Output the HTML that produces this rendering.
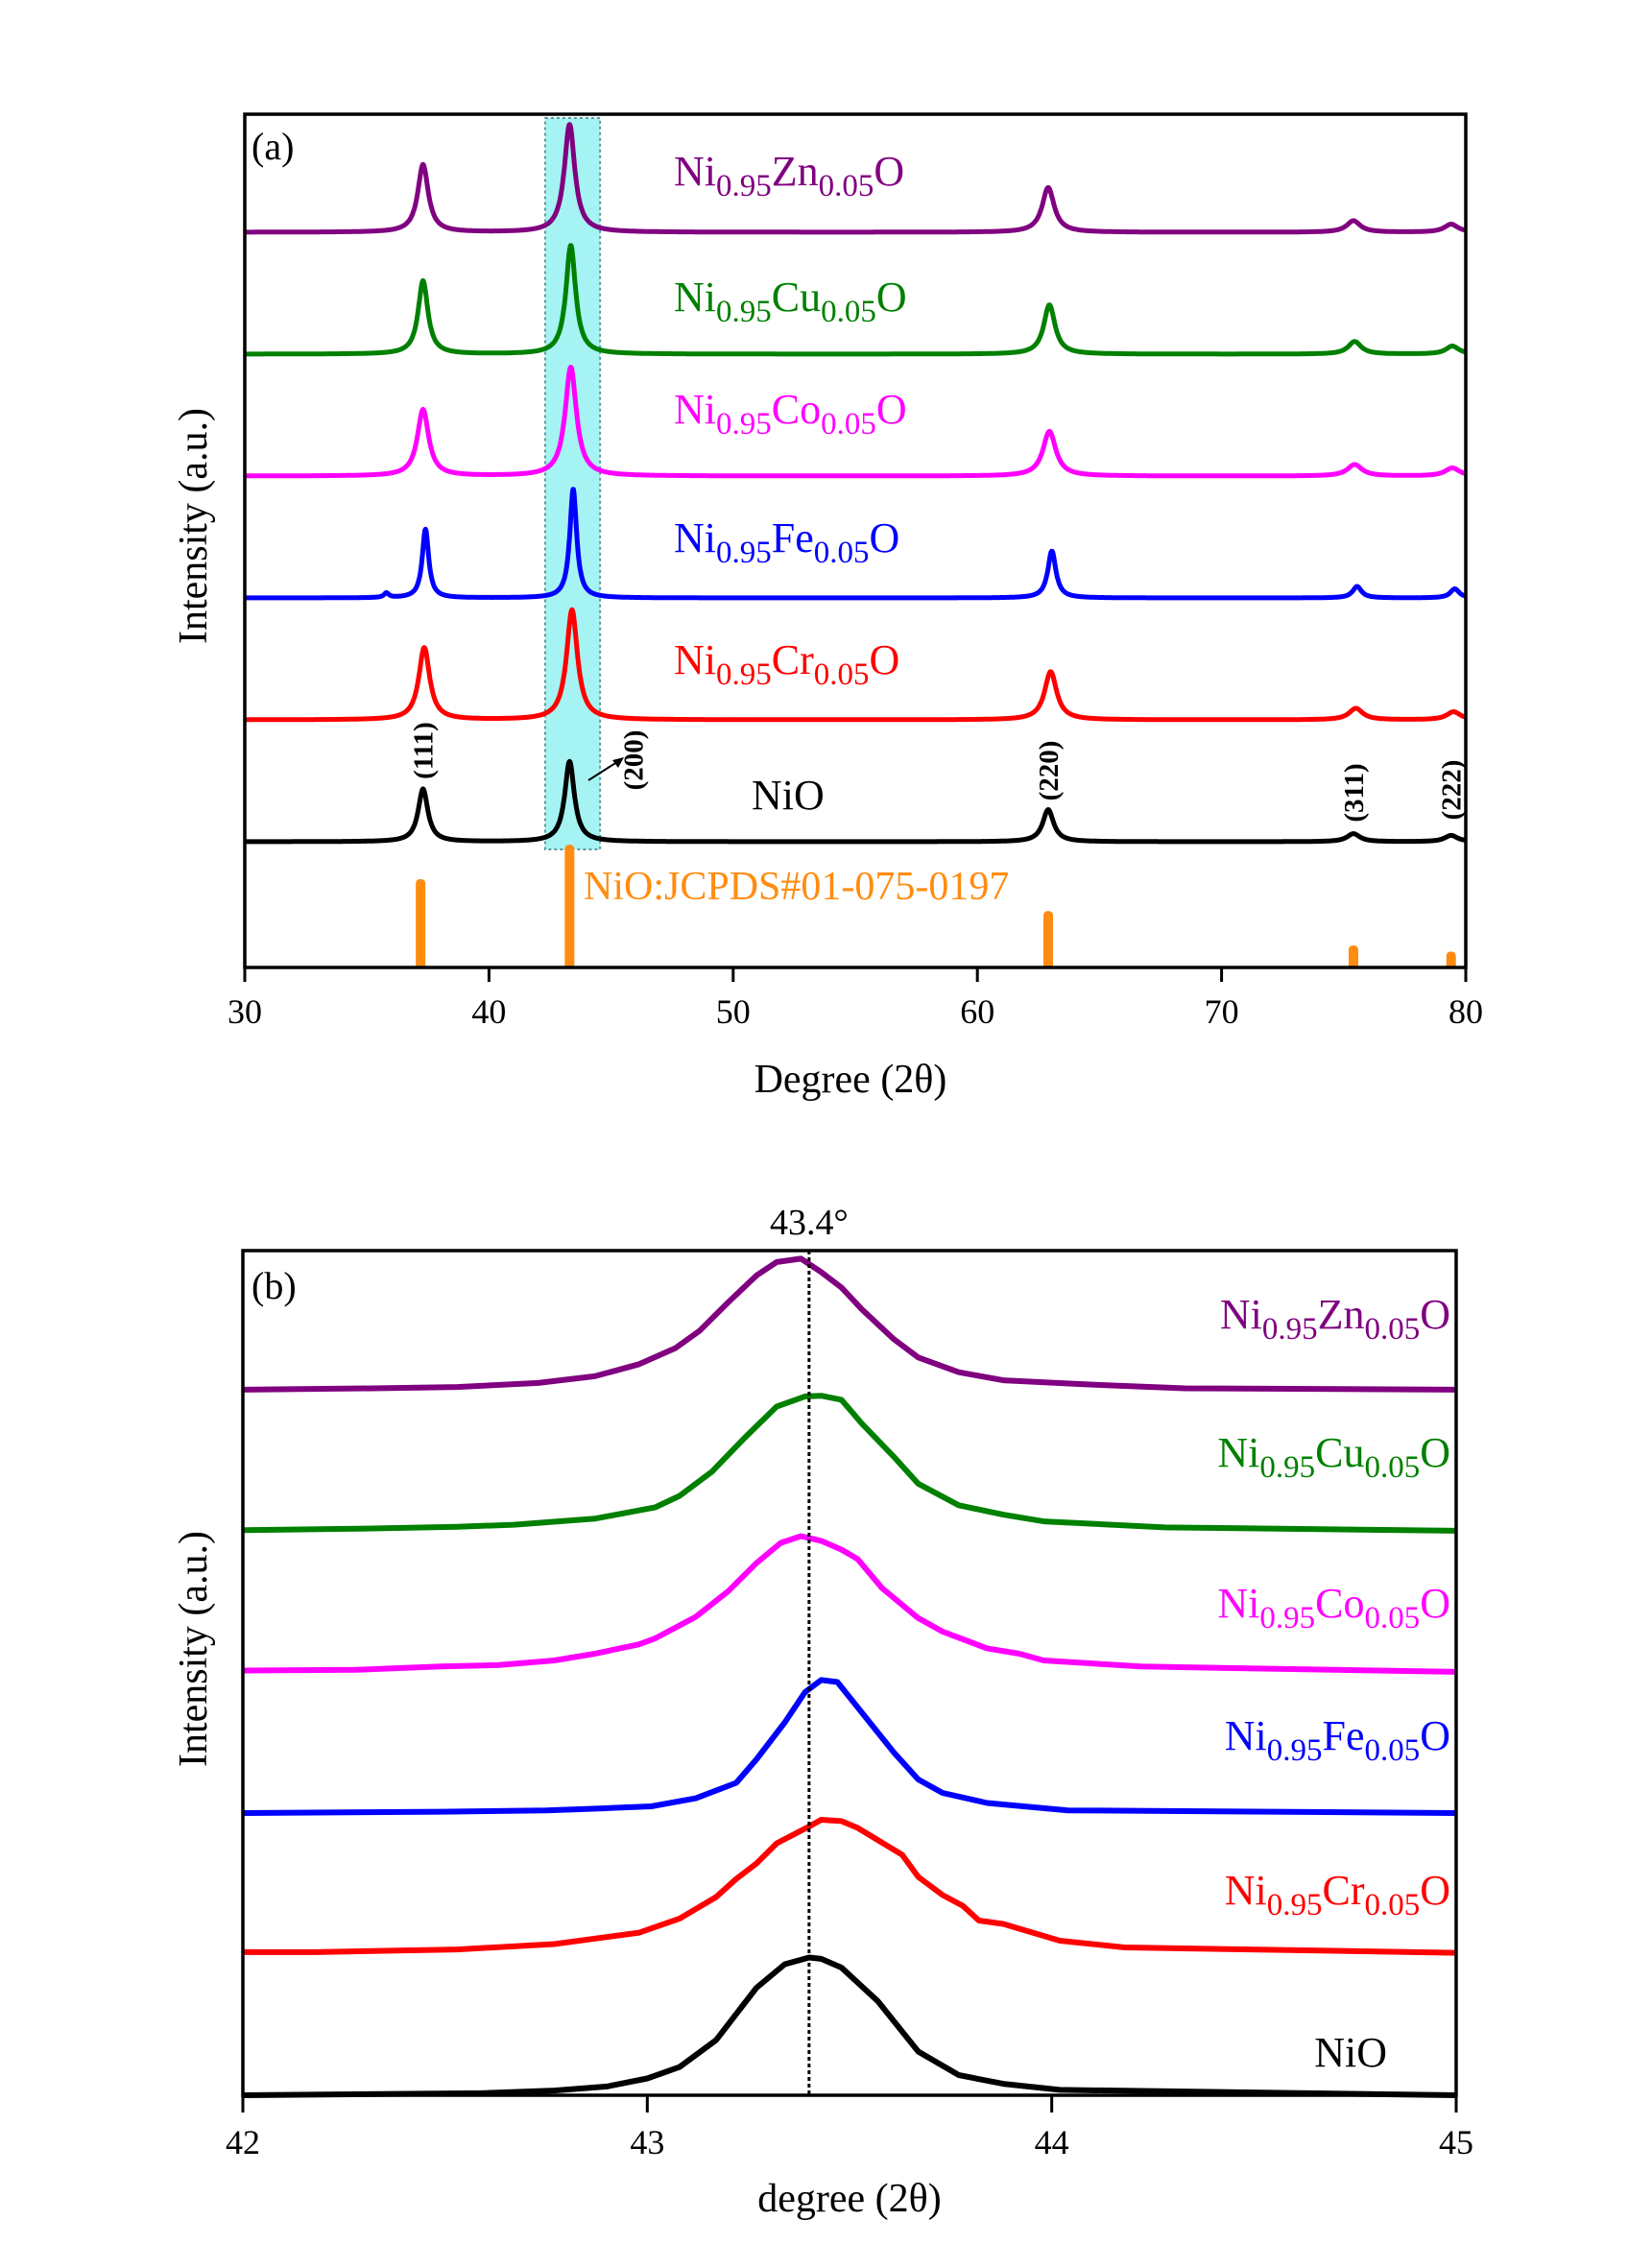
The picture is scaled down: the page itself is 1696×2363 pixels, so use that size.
<!DOCTYPE html>
<html><head><meta charset="utf-8"><style>
html,body{margin:0;padding:0;background:#fff;}
svg{display:block;font-family:"Liberation Serif",serif;}
</style></head><body>
<svg id="chart" width="1696" height="2363" viewBox="0 0 1696 2363" xmlns="http://www.w3.org/2000/svg">
<g id="pa"></g>
<g id="pb"></g>
</svg>
<script>
// ---------- Panel (a) data ----------
const aSeries = ["NiO","Cr","Fe","Co","Cu","Zn"];
const aColors = ["#000000","#ff0000","#0000ff","#ff00ff","#008000","#800080"];
const aOffsets = [0, 1.0, 2.0, 3.0, 4.0, 5.0];
const aPeakPos = [[37.3,43.3,62.9,75.4,79.4],[37.35,43.4,63.0,75.5,79.5],[37.4,43.45,63.05,75.55,79.55],[37.3,43.35,62.95,75.45,79.45],[37.3,43.35,62.95,75.45,79.45],[37.3,43.3,62.9,75.4,79.4]];
const aPeakH = [[0.46,0.70,0.28,0.07,0.055],[0.63,0.96,0.42,0.10,0.07],[0.60,0.95,0.41,0.10,0.08],[0.58,0.95,0.39,0.10,0.07],[0.64,0.95,0.43,0.11,0.07],[0.59,0.94,0.39,0.10,0.07]];
const aPeakW = [[0.24,0.24,0.27,0.32,0.32],[0.27,0.27,0.3,0.34,0.34],[0.16,0.17,0.2,0.22,0.22],[0.28,0.28,0.32,0.36,0.36],[0.24,0.24,0.28,0.32,0.32],[0.26,0.26,0.3,0.34,0.34]];
const aExtraPos = [null,null,35.8,null,null,null];
const aLabels = ["NiO","Cr","Fe","Co","Cu","Zn"];
const stickPos = [37.2,43.3,62.9,75.4,79.4];
const stickH = [0.72,1.0,0.46,0.18,0.13];
const aXTicks = [30,40,50,60,70,80];
const millerPos = [37.3,45.9,62.9,75.4,79.4];
const millerText = ["(111)","(200)","(220)","(311)","(222)"];

// ---------- Panel (b) data ----------
const bOffsets = [0,213,420,632,841,1050];
const bX_NiO=[42,42.59,42.77,42.90,43.00,43.08,43.17,43.27,43.34,43.40,43.43,43.48,43.57,43.67,43.77,43.88,44.02,45];
const bI_NiO=[0,3,7,13,25,42,82,160,195,205,203,190,140,65,30,17,8,0];
const bX_Cr=[42,42.18,42.53,42.77,42.98,43.08,43.17,43.22,43.27,43.32,43.40,43.43,43.48,43.52,43.63,43.67,43.73,43.78,43.82,43.88,44.02,44.18,45];
const bI_Cr=[0,0,4,12,29,50,82,109,132,162,187,197,195,185,145,112,85,69,47,42,17,7,-1];
const bX_Fe=[42,42.49,42.75,42.89,43.01,43.12,43.22,43.27,43.34,43.39,43.43,43.47,43.53,43.61,43.67,43.73,43.84,44.04,45];
const bI_Fe=[0,2,4,7,10,22,45,80,135,180,198,195,150,90,50,30,15,4,0];
const bX_Co=[42,42.28,42.49,42.63,42.77,42.87,42.98,43.02,43.12,43.20,43.27,43.33,43.38,43.43,43.48,43.52,43.58,43.67,43.73,43.84,43.92,43.98,44.22,45];
const bI_Co=[0,1,6,8,15,25,39,48,80,118,160,190,200,193,180,166,123,78,58,33,25,15,6,-2];
const bX_Cu=[42,42.28,42.53,42.67,42.87,43.02,43.08,43.16,43.24,43.32,43.39,43.43,43.48,43.53,43.61,43.67,43.77,43.88,43.98,44.28,45];
const bI_Cu=[0,2,5,8,17,34,51,87,137,184,199,200,194,159,109,69,37,23,13,4,-1];
const bX_Zn=[42,42.32,42.53,42.73,42.87,42.98,43.07,43.13,43.20,43.27,43.32,43.38,43.43,43.48,43.53,43.61,43.67,43.77,43.88,44.08,44.33,45];
const bI_Zn=[0,2,4,10,20,38,62,88,130,170,190,195,175,152,120,75,48,26,14,8,2,0];
const bXTicks=[42,43,44,45];
const refLine=43.4;

const NS="http://www.w3.org/2000/svg";
function mk(parent,tag,attrs,text){const e=document.createElementNS(NS,tag);for(const k in attrs)e.setAttribute(k,attrs[k]);if(text!==undefined)e.textContent=text;parent.appendChild(e);return e;}
function label(parent,x,y,el,color,anchor,size){
  const t=mk(parent,"text",{x:x,y:y,fill:color,"font-size":size,"text-anchor":anchor});
  
  
  if(el==="NiO"){t.textContent="NiO";return t;}
  const s=Math.round(size*0.75);
  mk(t,"tspan",{},"Ni");
  mk(t,"tspan",{"font-size":s,dy:11},"0.95");
  mk(t,"tspan",{dy:-11},el);
  mk(t,"tspan",{"font-size":s,dy:11},"0.05");
  mk(t,"tspan",{dy:-11},"O");
  return t;
}

// ===== Panel A =====
(function(){
const g=document.getElementById("pa");
const L=255,R=1527,T=119,B=1008;
const xs=d=>L+(d-30)/(80-30)*(R-L);
const unit=127; const base0=877;
const ys=v=>base0-v*unit;
const hb=mk(g,"rect",{x:xs(42.3),y:123,width:xs(44.55)-xs(42.3),height:885-123,fill:"#a6f3f3",stroke:"#5a9a9a","stroke-width":2,"stroke-dasharray":"3,3"});


stickPos.forEach((p,i)=>{
  const top=B-stickH[i]*128;
  const r=mk(g,"path",{d:`M${xs(p)-5},${B} L${xs(p)-5},${top+5} Q${xs(p)-5},${top} ${xs(p)},${top} Q${xs(p)+5},${top} ${xs(p)+5},${top+5} L${xs(p)+5},${B} Z`,fill:"#ff8c10"});
  
  
});
const jl=mk(g,"text",{x:608,y:937,fill:"#ff8c10","font-size":42},"NiO:JCPDS#01-075-0197");


aSeries.forEach((s,i)=>{
  let d="";
  for(let x=30;x<=80.001;x+=0.02){
    let v=0;
    aPeakPos[i].forEach((c,k)=>{const w=aPeakW[i][k];v+=aPeakH[i][k]/(1+((x-c)/w)**2);});
    if(aExtraPos[i]!==null){v+=0.04/(1+((x-aExtraPos[i])/0.12)**2);}
    const yy=ys(aOffsets[i]+v*0.94);
    d+=(d?"L":"M")+xs(x).toFixed(1)+","+yy.toFixed(1);
  }
  const p=mk(g,"path",{d:d,fill:"none",stroke:aColors[i],"stroke-width":5,"stroke-linejoin":"round"});
  
  
});
const lbY=[843,702,575,441,324,193];
aLabels.forEach((s,i)=>{
  if(s==="NiO") label(g,783,lbY[i],s,aColors[i],"start",44);
  else label(g,702,lbY[i],s,aColors[i],"start",44);
});
const mY=[782,792,803,826,823];
millerPos.forEach((p,i)=>{
  const t=mk(g,"text",{x:0,y:0,"font-size":29,"font-weight":"bold","text-anchor":"middle",transform:`translate(${xs(p)+10},${mY[i]}) rotate(-90)`},millerText[i]);
  
  
});
mk(g,"line",{x1:613,y1:813,x2:646,y2:792,stroke:"#000","stroke-width":2});
mk(g,"path",{d:"M650,789 L638,792 L644,800 Z",fill:"#000"});
const fr=mk(g,"rect",{x:L,y:T,width:R-L,height:B-T,fill:"none",stroke:"#000","stroke-width":3.5});


aXTicks.forEach(t=>{
  mk(g,"line",{x1:xs(t),y1:B,x2:xs(t),y2:B+15,stroke:"#000","stroke-width":3});
  const tl=mk(g,"text",{x:xs(t),y:1066,"font-size":36,"text-anchor":"middle"},String(t));
  
  
});
const xt=mk(g,"text",{x:886,y:1138,"font-size":42,"text-anchor":"middle"},"Degree (2θ)");


const yt=mk(g,"text",{x:0,y:0,"font-size":42,"text-anchor":"middle",transform:"translate(215,548) rotate(-90)"},"Intensity (a.u.)");


const pl=mk(g,"text",{x:262,y:166,"font-size":40},"(a)");


})();

// ===== Panel B =====
(function(){
const g=document.getElementById("pb");
const L=253,R=1517,T=1303,B=2183;
const xs=d=>L+(d-42)/(45-42)*(R-L);
const ys=v=>B-v*(B-T)/1257;
const X=[bX_NiO,bX_Cr,bX_Fe,bX_Co,bX_Cu,bX_Zn];
const I=[bI_NiO,bI_Cr,bI_Fe,bI_Co,bI_Cu,bI_Zn];
X.forEach((xa,i)=>{
  let d="";
  xa.forEach((x,k)=>{d+=(k?"L":"M")+xs(x).toFixed(1)+","+ys(bOffsets[i]+I[i][k]).toFixed(1);});
  const p=mk(g,"path",{d:d,fill:"none",stroke:aColors[i],"stroke-width":6,"stroke-linejoin":"round"});
  
  
});
const rl=mk(g,"line",{x1:xs(refLine),y1:1303,x2:xs(refLine),y2:2183,stroke:"#000","stroke-width":3,"stroke-dasharray":"4,3"});


const rt=mk(g,"text",{x:xs(refLine),y:1286,"font-size":38,"text-anchor":"middle"},"43.4°");


const lbY=[2153,1984,1823,1685,1528,1384];
aLabels.forEach((s,i)=>{
  if(s==="NiO") label(g,1445,lbY[i],s,aColors[i],"end",44);
  else label(g,1511,lbY[i],s,aColors[i],"end",44);
});
const fr=mk(g,"rect",{x:L,y:T,width:R-L,height:B-T,fill:"none",stroke:"#000","stroke-width":3.5});


bXTicks.forEach(t=>{
  mk(g,"line",{x1:xs(t),y1:B,x2:xs(t),y2:B+18,stroke:"#000","stroke-width":3});
  const tl=mk(g,"text",{x:xs(t),y:2244,"font-size":36,"text-anchor":"middle"},String(t));
  
  
});
const xt=mk(g,"text",{x:885,y:2304,"font-size":42,"text-anchor":"middle"},"degree (2θ)");


const yt=mk(g,"text",{x:0,y:0,"font-size":42,"text-anchor":"middle",transform:"translate(215,1718) rotate(-90)"},"Intensity (a.u.)");


const pl=mk(g,"text",{x:262,y:1353,"font-size":40},"(b)");


})();
</script>
</body></html>
